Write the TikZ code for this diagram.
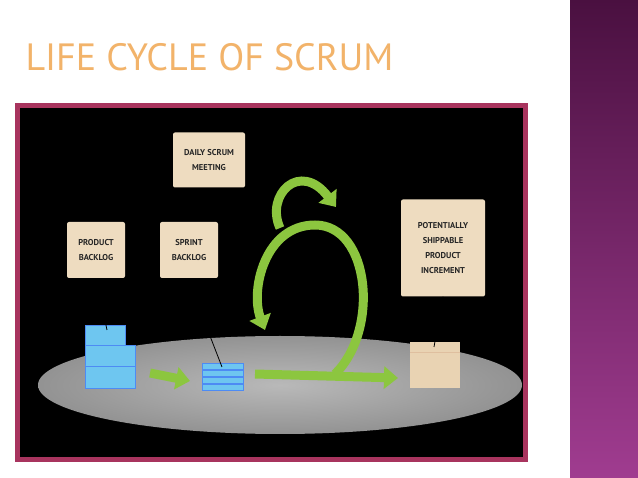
\documentclass[tikz,border=0pt]{standalone}
\usepackage{fontspec}
\setmainfont{PT Sans}
\usetikzlibrary{arrows.meta,shadings}
\definecolor{beige}{HTML}{EEDCC0}
\definecolor{grn}{HTML}{8CC63F}
\definecolor{frame}{HTML}{A8345E}
\definecolor{ttl}{HTML}{F2B36A}
\definecolor{bl}{HTML}{6EC6F0}
\definecolor{pdark}{HTML}{4A1040}
\definecolor{plight}{HTML}{A03C90}
\tikzset{
 lbl/.style={fill=beige,rounded corners=2pt,align=center,font=\bfseries\fontsize{8.5}{15}\selectfont,text=black!85,inner sep=2pt},
 ptr/.style={black,line width=0.8pt},
 garrow/.style={grn,line width=9pt,-{Triangle[length=14pt,width=22pt]}},
 blue/.style={fill=bl,draw=bl!70!blue,line width=0.4pt},
}
\begin{document}
\begin{tikzpicture}[x=1pt,y=-1pt]
\useasboundingbox (0,0) rectangle (638,478);
\fill[white] (0,0) rectangle (638,478);
\shade[top color=pdark,bottom color=plight] (570,0) rectangle (638,478);
\node[anchor=west,text=ttl,font=\fontsize{38}{38}\selectfont] (title) at (22,57) {LIFE CYCLE OF SCRUM};
\draw[frame,line width=5pt,fill=black] (17,106) rectangle (525,460);
\shade[inner color=gray!55,outer color=gray!85] (280,385) ellipse [x radius=242, y radius=49];
% labels
\node[lbl,minimum width=72,minimum height=55] (dsm) at (209,160) {DAILY SCRUM\\MEETING};
\node[lbl,minimum width=58,minimum height=56] (pb) at (96,250) {PRODUCT\\BACKLOG};
\node[lbl,minimum width=58,minimum height=56] (sb) at (189,250) {SPRINT\\BACKLOG};
\node[lbl,minimum width=84,minimum height=97] (psi) at (443,248) {POTENTIALLY\\SHIPPABLE\\PRODUCT\\INCREMENT};
% product backlog stack
\draw[blue] (85,345) rectangle (135,388);
\draw[blue] (85,366) -- (135,366);
\draw[blue] (85,325) rectangle (125,345);
\coordinate (pbs) at (107,330);
% sprint backlog stack
\foreach \i in {0,1,2,3} \draw[blue] (202,{363+\i*7}) rectangle (243,{369+\i*7});
\coordinate (sbs) at (222,367);
% product box
\fill[beige!90!brown] (410,342) rectangle (460,388);
\draw[brown!50] (410,352) -- (460,352);
\coordinate (box) at (434,347);
% pointer lines
\draw[ptr] (pb.south) -- (pbs);
\draw[ptr] (210,336) -- (sbs);
\draw[ptr] (psi.south) -- (box);
% green arrows
\coordinate (s1) at (150,373); \coordinate (e1) at (190,381);
\draw[garrow] (s1) -- (e1);
\coordinate (s2) at (255,374); \coordinate (e2) at (398,378);
\draw[garrow] (s2) -- (e2);
\coordinate (l0) at (335,374); \coordinate (l1) at (265,330);
\draw[garrow] (l0) .. controls (380,330) and (370,225) .. (315,225) .. controls (265,225) and (250,290) .. (l1);
\coordinate (c0) at (280,228); \coordinate (c1) at (336,207);
\draw[garrow] (c0) .. controls (265,195) and (300,160) .. (c1);
\end{tikzpicture}
\end{document}
